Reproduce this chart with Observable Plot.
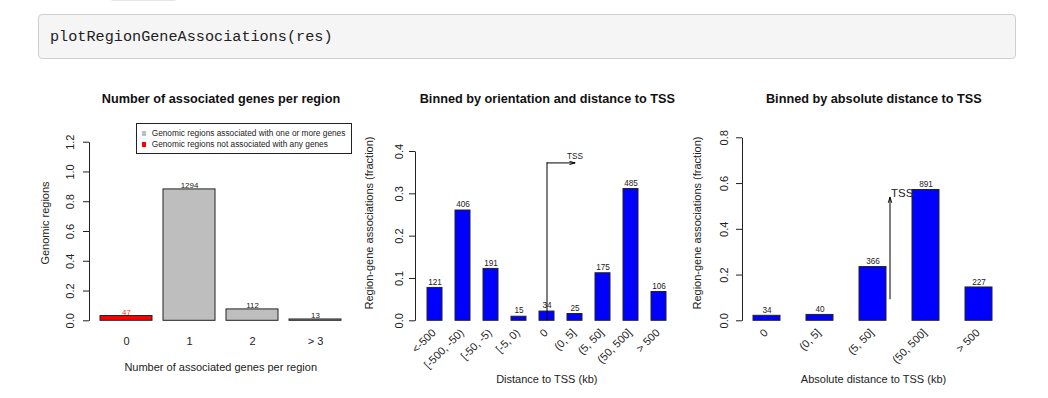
<!DOCTYPE html>
<html>
<head>
<meta charset="utf-8">
<script src="https://cdn.jsdelivr.net/npm/d3@7"></script>
<script src="https://cdn.jsdelivr.net/npm/@observablehq/plot@0.6"></script>
<style>
  body { margin: 0; background: #fff; }
  #root { position: relative; width: 1048px; height: 398px; overflow: hidden; font-family: "Liberation Sans", Arial, Helvetica, sans-serif; }
  .tab { position: absolute; left: 110px; top: -10px; width: 67px; height: 11px; box-sizing: border-box; background: #f7f7f7; border: 1px solid #e6e6e6; border-radius: 3px; }
  .code { position: absolute; left: 38px; top: 14px; width: 978px; height: 45px; box-sizing: border-box; background: #f5f5f5; border: 1px solid #cfcfcf; border-radius: 4px; }
  .code span { position: absolute; left: 11px; top: 0; line-height: 44px; font-family: "Liberation Mono", "DejaVu Sans Mono", monospace; font-size: 15.2px; color: #222; white-space: pre; }
  .panel { position: absolute; }
  .legend { position: absolute; box-sizing: border-box; border: 1px solid #222; background: #fff; font-size: 8.3px; color: #222; }
  .legend .sq { position: absolute; width: 4.5px; height: 4.5px; }
  .legend .lt { position: absolute; white-space: nowrap; line-height: 10px; }
</style>
</head>
<body>
<div id="root">
  <div class="tab"></div>
  <div class="code"><span>plotRegionGeneAssociations(res)</span></div>
</div>
<script>
// ---------- data ----------
const genesCats = ["0", "1", "2", "> 3"];
const genesCounts = [47, 1294, 112, 13];
const genesFills = ["#ff0000", "#bebebe", "#bebebe", "#bebebe"];
const genesLabelFills = ["#ff3030", "#222222", "#222222", "#222222"];
const genesTicks = [0, 0.2, 0.4, 0.6, 0.8, 1.0, 1.2];
const legendLabels = ["Genomic regions associated with one or more genes", "Genomic regions not associated with any genes"];
const legendColors = ["#bebebe", "#ff0000"];

const orientCats = ["<-500", "[-500, -50)", "[-50, -5)", "[-5, 0)", "0", "(0, 5]", "(5, 50]", "(50, 500]", "> 500"];
const orientCounts = [121, 406, 191, 15, 34, 25, 175, 485, 106];
const orientTicks = [0, 0.1, 0.2, 0.3, 0.4];

const absCats = ["0", "(0, 5]", "(5, 50]", "(50, 500]", "> 500"];
const absCounts = [34, 40, 366, 891, 227];
const absTicks = [0, 0.2, 0.4, 0.6, 0.8];

const tss2 = [{from: "0", to: "(0, 5]", top: 0.373, label: 0.388}];
const tss3 = [{at: "(5, 50]", bottom: 0.096, top: 0.54, label: 0.5575}];

// ---------- helpers ----------
const FONT = "Liberation Sans, Arial, Helvetica, sans-serif";
const INK = "#222222";
const fmt1 = d3.format(".1f");

function axisLine(lo, hi) {
  return (index, scales, values, dims) => {
    const l = document.createElementNS("http://www.w3.org/2000/svg", "line");
    const x = dims.marginLeft + 0.5;
    l.setAttribute("x1", x); l.setAttribute("x2", x);
    l.setAttribute("y1", scales.y(lo) + 0.5); l.setAttribute("y2", scales.y(hi) + 0.5);
    l.setAttribute("stroke", INK);
    l.setAttribute("stroke-width", 1);
    return l;
  };
}

function panel(cfg) {
  const {L, T = 80, W, H = 318, mL, mT, mB, cats, counts, fills, labelFills,
         yMax, ticks, xRange, padInner, tickDx, labelDy, labelSize,
         title, titleAt, xTitle, xTitleAt, yTitle, yTitleAt, rotated, extra = []} = cfg;
  const total = d3.sum(counts);
  const data = cats.map((c, i) => ({cat: c, n: counts[i], frac: counts[i] / total, fill: fills[i], lab: labelFills[i]}));
  const ax = L + mL, ay = T + mT;
  const at = ([x, y]) => ({frameAnchor: "top-left", dx: x - ax, dy: y - ay, textAnchor: "middle", lineAnchor: "middle"});

  const xLabels = rotated
    ? Plot.text(data, {x: "cat", text: "cat", frameAnchor: "bottom", dy: 10, dx: -1, rotate: -45, textAnchor: "end", lineAnchor: "middle", fontSize: 11, fill: INK})
    : Plot.text(data, {x: "cat", text: "cat", frameAnchor: "bottom", dy: 20.4, textAnchor: "middle", lineAnchor: "middle", fontSize: 11, fill: INK});

  const svg = Plot.plot({
    width: W, height: H,
    marginLeft: mL, marginTop: mT, marginBottom: mB, marginRight: 0,
    x: {type: "band", domain: cats, range: xRange, paddingInner: padInner, paddingOuter: 0, axis: null},
    y: {domain: [0, yMax]},
    color: {type: "identity"},
    style: {fontFamily: FONT, fontSize: "11px", color: INK, background: "transparent", overflow: "visible"},
    marks: [
      Plot.barY(data, {x: "cat", y: "frac", fill: "fill", stroke: INK, strokeWidth: 1}),
      axisLine(0, yMax),
      Plot.axisY({ticks, tickSize: 6, tickFormat: () => "", label: null, stroke: INK}),
      Plot.text(ticks, {y: d => d, text: d => fmt1(d), frameAnchor: "left", dx: tickDx, rotate: -90, textAnchor: "middle", lineAnchor: "middle", fontSize: 11, fill: INK}),
      Plot.text(data, {x: "cat", y: "frac", text: d => String(d.n), fill: "lab", dy: labelDy, textAnchor: "middle", lineAnchor: "middle", fontSize: labelSize}),
      xLabels,
      ...extra,
      Plot.text([title], {...at(titleAt), text: d => d, fontWeight: "bold", fontSize: 12.7, fill: "#111"}),
      Plot.text([xTitle], {...at(xTitleAt), text: d => d, fontSize: 11, fill: INK}),
      Plot.text([yTitle], {...at(yTitleAt), text: d => d, rotate: -90, fontSize: 11, fill: INK})
    ]
  });
  svg.classList.add("panel");
  svg.style.left = L + "px";
  svg.style.top = T + "px";
  document.getElementById("root").appendChild(svg);
}

// ---------- panel 1 ----------
panel({
  L: 30, W: 330, mL: 59, mT: 61.7, mB: 77.7,
  cats: genesCats, counts: genesCounts, fills: genesFills, labelFills: genesLabelFills,
  yMax: 1.2, ticks: genesTicks, xRange: [69, 311.7], padInner: 0.2 / 1.2,
  tickDx: -19.3, labelDy: -4, labelSize: 7.9,
  title: "Number of associated genes per region", titleAt: [220.5, 98.3],
  xTitle: "Number of associated genes per region", xTitleAt: [220.2, 366.5],
  yTitle: "Genomic regions", yTitleAt: [45, 222.5],
  rotated: false
});

// legend for panel 1
{
  const root = document.getElementById("root");
  const lg = document.createElement("div");
  lg.className = "legend";
  Object.assign(lg.style, {left: "136px", top: "123px", width: "216px", height: "30.5px"});
  legendLabels.forEach((t, i) => {
    const cy = 9.3 + i * 11;
    const sq = document.createElement("div");
    sq.className = "sq";
    Object.assign(sq.style, {left: "4.5px", top: (cy - 2.25) + "px", background: legendColors[i]});
    const tx = document.createElement("div");
    tx.className = "lt";
    Object.assign(tx.style, {left: "14.7px", top: (cy - 5) + "px"});
    tx.textContent = t;
    lg.appendChild(sq); lg.appendChild(tx);
  });
  root.appendChild(lg);
}

// ---------- panel 2 ----------
panel({
  L: 360, W: 330, mL: 55, mT: 71, mB: 77.7,
  cats: orientCats, counts: orientCounts, fills: orientCats.map(() => "#0000ff"), labelFills: orientCats.map(() => INK),
  yMax: 0.4, ticks: orientTicks, xRange: [65, 307.7], padInner: 0.473,
  tickDx: -16.5, labelDy: -6, labelSize: 8.2,
  title: "Binned by orientation and distance to TSS", titleAt: [546.8, 98.3],
  xTitle: "Distance to TSS (kb)", xTitleAt: [546.3, 379],
  yTitle: "Region-gene associations (fraction)", yTitleAt: [369.3, 222.5],
  rotated: true,
  extra: [
    Plot.ruleX(tss2, {x: "from", y1: 0, y2: "top", stroke: "#000", strokeWidth: 1}),
    Plot.arrow(tss2, {x1: "from", x2: "to", y1: "top", y2: "top", stroke: "#000", strokeWidth: 1, headLength: 8, headAngle: 32}),
    Plot.text(tss2, {x: "to", y: "label", text: () => "TSS", fontSize: 8.2, fill: INK})
  ]
});

// ---------- panel 3 ----------
panel({
  L: 690, W: 358, mL: 52, mT: 57.3, mB: 77.7,
  cats: absCats, counts: absCounts, fills: absCats.map(() => "#0000ff"), labelFills: absCats.map(() => INK),
  yMax: 0.8, ticks: absTicks, xRange: [61, 303.7], padInner: 0.493,
  tickDx: -18.4, labelDy: -5.5, labelSize: 8.2,
  title: "Binned by absolute distance to TSS", titleAt: [873.3, 98.3],
  xTitle: "Absolute distance to TSS (kb)", xTitleAt: [873, 379],
  yTitle: "Region-gene associations (fraction)", yTitleAt: [697.3, 222.5],
  rotated: true,
  extra: [
    Plot.arrow(tss3, {x1: "at", x2: "at", y1: "bottom", y2: "top", dx: 17, stroke: "#000", strokeWidth: 1, headLength: 8, headAngle: 34}),
    Plot.text(tss3, {x: "at", y: "label", text: () => "TSS", dx: 18, textAnchor: "start", lineAnchor: "middle", fontSize: 11.5, fill: INK})
  ]
});
</script>
</body>
</html>
